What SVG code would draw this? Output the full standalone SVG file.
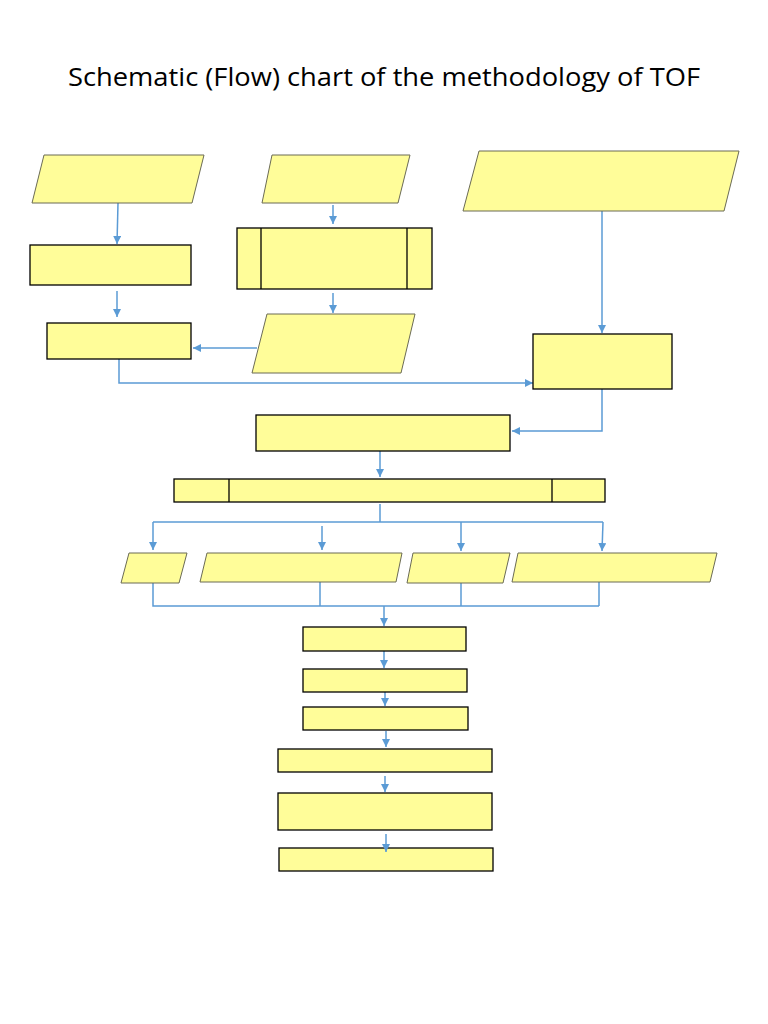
<svg xmlns="http://www.w3.org/2000/svg" width="768" height="1024" viewBox="0 0 768 1024">
<style>
.box{fill:#FFFD99;stroke:#000;stroke-width:1.3}
.io{fill:#FFFD99;stroke:#6b6b55;stroke-width:1}
.c{fill:none;stroke:#5B9BD5;stroke-width:1.5}
.ca{fill:none;stroke:#5B9BD5;stroke-width:1.5;marker-end:url(#ah)}
.title{font-family:"Open Sans","Liberation Sans",sans-serif;font-size:26px;fill:#000}
</style>
<defs>
<marker id="ah" viewBox="0 0 10 10" refX="10" refY="5" markerWidth="8" markerHeight="8" markerUnits="userSpaceOnUse" orient="auto">
<path d="M0,0 L10,5 L0,10 z" fill="#5B9BD5"/>
</marker>
</defs>
<rect width="768" height="1024" fill="#fff"/>
<text class="title" x="384" y="86" text-anchor="middle" textLength="632" lengthAdjust="spacingAndGlyphs">Schematic (Flow) chart of the methodology of TOF</text>

<g id="connectors">
<path class="ca" d="M118,203 L117,244"/>
<path class="ca" d="M117,291 L117,317"/>
<path class="ca" d="M333,205 L333,224"/>
<path class="ca" d="M333,293 L333,313"/>
<path class="ca" d="M257,348 L193,348"/>
<path class="ca" d="M119,359 L119,383 L533,383"/>
<path class="ca" d="M602,211 L602,333"/>
<path class="ca" d="M602,389 L602,431 L512,431"/>
<path class="ca" d="M380,451 L380,477"/>
<path class="c" d="M380,504 L380,522"/>
<path class="c" d="M153,522 L603,522"/>
<path class="ca" d="M153,522 L153,550"/>
<path class="ca" d="M322,526 L322,550"/>
<path class="ca" d="M461,522 L461,551"/>
<path class="ca" d="M603,522 L602,551"/>
<path class="c" d="M153,583 L153,606 L599,606"/>
<path class="c" d="M320,582 L320,606"/>
<path class="c" d="M461,583 L461,606"/>
<path class="c" d="M599,582 L599,606"/>
<path class="ca" d="M384,606 L384,626"/>
<path class="ca" d="M384,651 L384,668"/>
<path class="ca" d="M385,692 L385,706"/>
<path class="ca" d="M386,731 L386,747"/>
<path class="ca" d="M385,776 L385,792"/>
</g>

<g id="n1"><polygon class="io" points="44,155 204,155 192,203 32,203"/></g>
<g id="n2"><rect class="box" x="30" y="245" width="161" height="40"/></g>
<g id="n3"><rect class="box" x="47" y="323" width="144" height="36"/></g>
<g id="n4"><polygon class="io" points="272,155 410,155 398,203 262,203"/></g>
<g id="n5"><rect class="box" x="237" y="228" width="195" height="61"/><line class="box" x1="261" y1="228" x2="261" y2="289"/><line class="box" x1="407" y1="228" x2="407" y2="289"/></g>
<g id="n6"><polygon class="io" points="267,314 415,314 401,373 252,373"/></g>
<g id="n7"><polygon class="io" points="479,151 739,151 724,211 463,211"/></g>
<g id="n8"><rect class="box" x="533" y="334" width="139" height="55"/></g>
<g id="n9"><rect class="box" x="256" y="415" width="254" height="36"/></g>
<g id="n10"><rect class="box" x="174" y="479" width="431" height="23"/><line class="box" x1="229" y1="479" x2="229" y2="502"/><line class="box" x1="552" y1="479" x2="552" y2="502"/></g>
<g id="n11"><polygon class="io" points="129,553 187,553 179,583 121,583"/></g>
<g id="n12"><polygon class="io" points="207,553 402,553 396,582 200,582"/></g>
<g id="n13"><polygon class="io" points="413,553 510,553 503,583 407,583"/></g>
<g id="n14"><polygon class="io" points="518,553 717,553 710,582 512,582"/></g>
<g id="n15"><rect class="box" x="303" y="627" width="163" height="24"/></g>
<g id="n16"><rect class="box" x="303" y="669" width="164" height="23"/></g>
<g id="n17"><rect class="box" x="303" y="707" width="165" height="23"/></g>
<g id="n18"><rect class="box" x="278" y="749" width="214" height="23"/></g>
<g id="n19"><rect class="box" x="278" y="793" width="214" height="37"/></g>
<g id="n20"><rect class="box" x="279" y="848" width="214" height="23"/></g>
<path class="ca" d="M386,834 L386,852"/>
</svg>
